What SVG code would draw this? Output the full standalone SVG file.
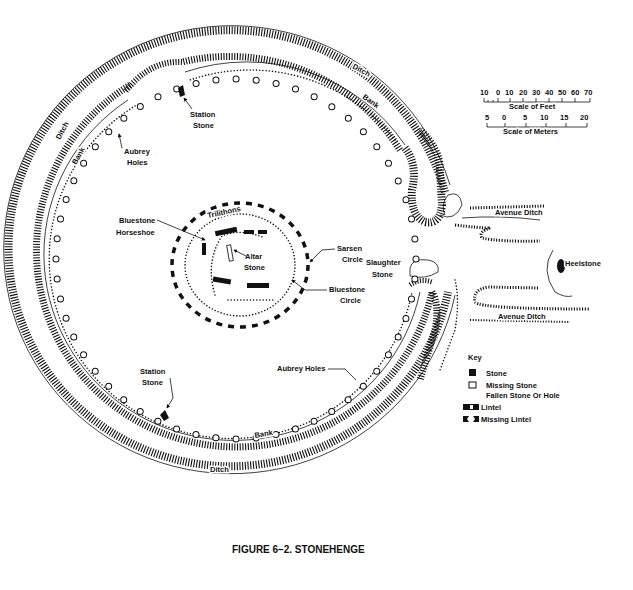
<svg xmlns="http://www.w3.org/2000/svg" width="633" height="590" viewBox="0 0 633 590">
<style>
text{font-family:"Liberation Sans",Arial,sans-serif;font-weight:bold;font-size:7.5px;fill:#111;paint-order:stroke;stroke:#fff;stroke-width:3px;stroke-linejoin:round}
.h{fill:none;stroke:#111;stroke-dasharray:1.1 1.6}
.t{fill:none;stroke:#111;stroke-width:0.8}
.d{fill:none;stroke:#111;stroke-width:1.6;stroke-linecap:round;stroke-dasharray:0 3.2}
.l{fill:none;stroke:#111;stroke-width:0.8}
</style>
<defs><marker id="a" viewBox="0 0 6 6" refX="5" refY="3" markerWidth="5" markerHeight="5" orient="auto"><path d="M0,0L6,3L0,6z" fill="#111"/></marker></defs>
<rect width="633" height="590" fill="#fff"/>
<g id="earthworks">
<path class="h" stroke-width="8" d="M445,192 A222,218 0 1 0 448,292"/>
<path class="t" d="M450,185 A228,224 0 1 0 455,295"/>
<path class="h" stroke-width="7" d="M400,150 A200,196 0 0 0 182,62"/>
<path class="h" stroke-width="7" d="M130,85 A200,196 0 1 0 432,292"/>
<path class="h" stroke-width="6" d="M182,62 Q150,60 125,92"/>
<path class="t" d="M405,145 A190,186 0 0 0 185,72 M128,100 A190,186 0 1 0 420,292"/>
<path class="d" d="M395,140 A183,180 0 0 0 190,80 M135,106 A183,180 0 1 0 412,292"/>
<path class="h" stroke-width="8" d="M405,148 Q418,165 412,190 Q410,215 425,222 Q440,225 442,205 L440,170 Q440,150 420,130"/>
<path class="t" d="M440,215 Q455,222 462,205 Q460,190 448,195 Q440,205 445,215"/>
<path class="h" stroke-width="7" d="M432,292 Q440,305 435,330 L420,380"/>
<path class="d" d="M455,280 Q460,300 455,330 L440,370"/>
</g>
<g id="avenue">
<path class="h" stroke-width="3" d="M470,208 L545,206"/>
<path class="l" stroke-width="3" d="M462,218 Q500,215 540,220"/>
<path class="h" stroke-width="3" d="M455,225 Q480,228 490,228 Q478,232 482,238 Q500,242 540,241"/>
<path class="h" stroke-width="3" d="M538,288 L488,287 Q472,290 475,302 Q480,309 590,309"/>
<path class="h" stroke-width="2" d="M470,320 L570,322"/>
<path class="l" stroke-width="2" d="M553,250 Q540,270 555,292 Q565,298 572,296"/>
<ellipse cx="561" cy="266" rx="4" ry="7" fill="#111"/>
<path class="l" stroke-width="1.4" d="M410,268 Q412,258 428,260 Q440,262 438,272 Q425,280 410,276 Z"/>
<path class="h" stroke-width="5" d="M410,285 Q420,278 432,282"/>
</g>
<g id="aubrey">
<circle cx="236" cy="259" r="180" fill="none" stroke="#111" stroke-width="7" stroke-linecap="round" stroke-dasharray="0 20.19"/>
<circle cx="236" cy="259" r="180" fill="none" stroke="#fff" stroke-width="5" stroke-linecap="round" stroke-dasharray="0 20.19"/>
</g>
<g id="stones">
<ellipse cx="240" cy="265" rx="68" ry="62" fill="none" stroke="#111" stroke-width="3.5" stroke-dasharray="6 6"/>
<ellipse cx="240" cy="265" rx="55" ry="51" class="d"/>
<path class="d" d="M215,295 Q205,262 222,236 Q240,228 265,238 M228,300 L275,300"/>
<rect x="215" y="229" width="22" height="5" fill="#111" transform="rotate(-12 226 231)"/>
<rect x="244" y="230" width="10" height="4" fill="#111"/>
<rect x="258" y="230" width="9" height="4" fill="#111"/>
<rect x="202" y="243" width="4" height="12" fill="#111"/>
<rect x="213" y="278" width="18" height="5" fill="#111" transform="rotate(10 222 280)"/>
<rect x="247" y="283" width="22" height="5" fill="#111"/>
<rect x="228" y="245" width="4" height="16" fill="none" stroke="#111" stroke-width="0.8" transform="rotate(-10 230 253)"/>
<path d="M178,88 l5,-3 l2,10 l-5,2z" fill="#111"/>
<path d="M160,415 l5,-5 l4,8 l-5,3z" fill="#111"/>
</g>
<g id="scale">
<text x="480" y="95">10</text><text x="496" y="95">0</text><text x="505" y="95">10</text><text x="519" y="95">20</text><text x="532" y="95">30</text><text x="545" y="95">40</text><text x="558" y="95">50</text><text x="571" y="95">60</text><text x="584" y="95">70</text>
<path class="l" d="M484,98 V102 H590 V98 M488,100V102 M493,100V102 M498,98V102 M510,98V102 M523,98V102 M536,98V102 M549,98V102 M562,98V102 M575,98V102"/>
<text x="509" y="109">Scale of Feet</text>
<text x="485" y="120">5</text><text x="502" y="120">0</text><text x="523" y="120">5</text><text x="540" y="120">10</text><text x="560" y="120">15</text><text x="580" y="120">20</text>
<path class="l" d="M487,123 V127 H587 V123 M505,123V127 M526,123V127 M546,123V127 M566,123V127"/>
<text x="503" y="134">Scale of Meters</text>
</g>
<g id="key">
<text x="468" y="360">Key</text>
<rect x="469" y="369" width="7" height="7" fill="#111"/><text x="486" y="376">Stone</text>
<rect x="469" y="382" width="7" height="6" fill="none" stroke="#111"/><text x="486" y="388">Missing Stone</text>
<text x="486" y="398">Fallen Stone Or Hole</text>
<rect x="463" y="404" width="16" height="6" fill="#111"/><rect x="470" y="405" width="3" height="4" fill="#fff"/><text x="481" y="410">Lintel</text>
<path d="M463,416h6l-2,3l2,3h-6z M479,416h-6l2,3l-2,3h6z" fill="#111"/><text x="481" y="422">Missing Lintel</text>
</g>
<g id="labels">
<text transform="translate(352,68) rotate(28)">Ditch</text>
<text transform="translate(362,98) rotate(35)">Bank</text>
<text transform="translate(60,140) rotate(-62)">Ditch</text>
<text transform="translate(76,165) rotate(-60)">Bank</text>
<text transform="translate(255,438) rotate(-10)">Bank</text>
<text x="210" y="472">Ditch</text>
<text x="190" y="117">Station</text><text x="193" y="128">Stone</text>
<path class="l" d="M192,109 L184,98" marker-end="url(#a)"/>
<text x="124" y="154">Aubrey</text><text x="127" y="165">Holes</text>
<path class="l" d="M122,148 L119,134" marker-end="url(#a)"/>
<text x="119" y="223">Bluestone</text><text x="116" y="235">Horseshoe</text>
<path class="l" d="M157,220 L205,240" marker-end="url(#a)"/>
<text transform="translate(208,218) rotate(-12)">Trilithons</text>
<text x="245" y="259">Altar</text><text x="244" y="270">Stone</text>
<path class="l" d="M246,256 L234,250" marker-end="url(#a)"/>
<text x="337" y="251">Sarsen</text><text x="342" y="262">Circle</text>
<path class="l" d="M335,249 L322,250 L310,262" marker-end="url(#a)"/>
<text x="329" y="292">Bluestone</text><text x="340" y="303">Circle</text>
<path class="l" d="M327,290 L305,290 L292,280" marker-end="url(#a)"/>
<text x="366" y="265">Slaughter</text><text x="372" y="277">Stone</text>
<text x="495" y="215">Avenue Ditch</text>
<text x="498" y="319">Avenue Ditch</text>
<text x="565" y="266">Heelstone</text>
<text x="140" y="374">Station</text><text x="142" y="385">Stone</text>
<path class="l" d="M170,378 L173,398 L167,408" marker-end="url(#a)"/>
<text x="277" y="371">Aubrey Holes</text>
<path class="l" d="M328,369 L345,369 L356,380"/>
<text x="232" y="553" style="font-size:10px">FIGURE 6–2.  STONEHENGE</text>
</g>
</svg>
